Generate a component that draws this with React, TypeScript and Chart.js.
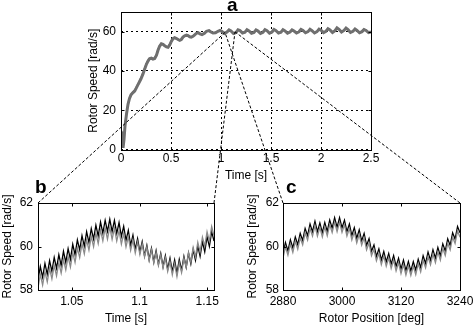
import React, { useEffect, useRef } from 'react';
import { Chart, registerables } from 'chart.js';

Chart.register(...registerables);

const FONT = '"Liberation Sans", Arial, Helvetica, sans-serif';

// ---------- Panel a: rotor speed over the whole run ----------
const aTime = [
  0, 0.008, 0.015, 0.022, 0.03, 0.04, 0.055, 0.07, 0.085, 0.1,
  0.12, 0.137, 0.155, 0.17, 0.185, 0.2, 0.22, 0.237, 0.255, 0.27,
  0.285, 0.303, 0.32, 0.337, 0.355, 0.37, 0.385, 0.403, 0.42, 0.437,
  0.455, 0.47, 0.487, 0.503, 0.52, 0.537, 0.555, 0.57, 0.587, 0.603,
  0.62, 0.637, 0.655, 0.67, 0.687, 0.703, 0.72, 0.737, 0.755, 0.77,
  0.79, 0.81, 0.835, 0.855, 0.88, 0.9, 0.92, 0.945, 0.97, 0.99,
  1.01, 1.035, 1.06, 1.08, 1.1, 1.125, 1.15, 1.17, 1.19, 1.215,
  1.24, 1.26, 1.28, 1.305, 1.33, 1.35, 1.37, 1.395, 1.42, 1.44,
  1.46, 1.485, 1.51, 1.53, 1.55, 1.575, 1.6, 1.62, 1.64, 1.665,
  1.69, 1.71, 1.73, 1.755, 1.78, 1.8, 1.82, 1.845, 1.87, 1.89,
  1.91, 1.935, 1.96, 1.98, 2.0, 2.025, 2.05, 2.07, 2.09, 2.115,
  2.14, 2.16, 2.18, 2.205, 2.23, 2.25, 2.27, 2.295, 2.32, 2.34,
  2.36, 2.385, 2.41, 2.43, 2.45, 2.475, 2.5,
];
const aGray = [
  9, 4, 1.5, 1.5, 5, 12, 18, 23, 26, 27.8,
  29, 29.8, 31.5, 33, 34.5, 36, 38.5, 41, 43.5, 45,
  46.2, 46.5, 46, 46.3, 48, 50.5, 52.5, 53.8, 53.5, 52.8,
  52.2, 52, 53.2, 55, 56.4, 56.9, 56.5, 56, 55.6, 56,
  57.2, 57.9, 58.2, 58, 57.4, 57.2, 57.6, 58.4, 59.2, 59.5,
  58.9, 58.5, 59.2, 60.2, 60.5, 59.8, 59.3, 59.4, 60.2, 60.6,
  60.1, 59.1, 59.8, 60.9, 60.3, 59.0, 59.5, 60.9, 60.5, 59.3,
  59.7, 61.0, 60.4, 59.2, 59.6, 60.9, 60.3, 59.1, 59.7, 61.0,
  60.5, 59.2, 59.8, 61.1, 60.5, 59.3, 59.7, 61.0, 60.4, 59.2,
  59.8, 60.9, 60.3, 59.3, 59.9, 61.1, 60.6, 59.4, 60.0, 61.2,
  60.5, 59.3, 60.0, 61.3, 60.7, 59.5, 60.2, 61.5, 60.9, 59.6,
  60.5, 61.9, 61.2, 59.8, 60.6, 61.8, 61.0, 59.6, 60.2, 61.3,
  60.6, 59.4, 60.0, 61.1, 60.6, 59.5, 59.9,
];
const aBlack = [
  9.5, 4.5, 2, 1.8, 5.5, 12.8, 18.8, 23.5, 26.4, 28.1,
  29.3, 30.2, 32, 33.4, 35, 36.5, 39, 41.6, 44, 45.4,
  46.4, 46.6, 46.2, 46.6, 48.5, 51, 52.9, 54, 53.6, 53,
  52.4, 52.3, 53.5, 55.3, 56.6, 57, 56.6, 56.2, 55.8, 56.2,
  57.4, 58, 58.3, 58.1, 57.6, 57.4, 57.8, 58.6, 59.3, 59.6,
  59.1, 58.7, 59.4, 60.3, 60.6, 59.9, 59.5, 59.6, 60.3, 60.7,
  60.2, 59.3, 59.9, 61.0, 60.4, 59.2, 59.6, 61.0, 60.6, 59.4,
  59.8, 61.1, 60.5, 59.3, 59.7, 61.0, 60.4, 59.2, 59.8, 61.1,
  60.6, 59.3, 59.9, 61.2, 60.6, 59.4, 59.8, 61.1, 60.5, 59.3,
  59.9, 61.0, 60.4, 59.4, 60.0, 61.2, 60.7, 59.5, 60.1, 61.3,
  60.6, 59.4, 60.1, 61.4, 60.8, 59.6, 60.3, 61.6, 61.0, 59.7,
  60.6, 62.0, 61.3, 59.9, 60.7, 61.9, 61.1, 59.7, 60.3, 61.4,
  60.7, 59.5, 60.1, 61.2, 60.7, 59.6, 60.0,
];
const aXTicks = [0, 0.5, 1, 1.5, 2, 2.5];
const aYTicks = [0, 20, 40, 60];
// the zoomed window marked in panel a: [time s, speed rad/s]
const zoomFrom = [1.04, 59.6];
const zoomTo = [1.14, 59.9];

// ---------- Panel b: rotor speed vs time (zoom) ----------
const bTimeStart = 1.025;
const bTimeEnd = 1.155;
const bBlack = [
  58.45, 59.08, 58.58, 59.22, 58.72, 59.35, 58.86, 59.50, 59.00, 59.62,
  59.13, 59.78, 59.27, 59.90, 59.41, 60.10, 59.62, 60.30, 59.84, 60.50,
  60.01, 60.68, 60.18, 60.82, 60.34, 60.98, 60.48, 61.12, 60.61, 61.20,
  60.69, 61.25, 60.68, 61.20, 60.60, 61.10, 60.46, 60.93, 60.28, 60.74,
  60.05, 60.52, 59.87, 60.36, 59.74, 60.22, 59.57, 60.05, 59.40, 59.92,
  59.29, 59.80, 59.18, 59.68, 59.07, 59.58, 58.95, 59.46, 58.85, 59.38,
  58.77, 59.40, 58.90, 59.54, 59.05, 59.70, 59.21, 59.86, 59.37, 60.03,
  59.55, 60.22, 59.76, 60.45, 60.00, 60.68, 60.25,
];
const bGray = [
  58.10, 58.72, 58.23, 58.85, 58.37, 58.99, 58.51, 59.13, 58.65, 59.26,
  58.78, 59.40, 58.92, 59.54, 59.06, 59.72, 59.27, 59.93, 59.49, 60.13,
  59.66, 60.30, 59.83, 60.46, 59.99, 60.61, 60.13, 60.75, 60.26, 60.85,
  60.34, 60.89, 60.33, 60.84, 60.25, 60.73, 60.11, 60.59, 59.98, 60.45,
  59.82, 60.31, 59.70, 60.21, 59.63, 60.12, 59.52, 59.98, 59.35, 59.85,
  59.24, 59.73, 59.13, 59.62, 59.02, 59.48, 58.85, 59.32, 58.70, 59.21,
  58.62, 59.25, 58.80, 59.47, 59.05, 59.72, 59.28, 59.95, 59.52, 60.19,
  59.75, 60.43, 60.01, 60.68, 60.25, 60.92, 60.50,
];
const bXTicks = [1.05, 1.1, 1.15];
const speedTicks = [58, 60, 62];

// ---------- Panel c: rotor speed vs rotor position ----------
const cPosStart = 2880;
const cPosEnd = 3240;
const cBlack = [
  59.68, 60.18, 59.80, 60.31, 59.93, 60.44, 60.08, 60.60, 60.28, 60.83,
  60.50, 61.03, 60.68, 61.16, 60.68, 61.08, 60.64, 61.10, 60.69, 61.21,
  60.84, 61.32, 60.88, 61.32, 60.85, 61.21, 60.68, 61.03, 60.50, 60.86,
  60.37, 60.76, 60.26, 60.60, 60.05, 60.36, 59.78, 60.07, 59.54, 59.89,
  59.37, 59.77, 59.29, 59.68, 59.19, 59.58, 59.08, 59.46, 58.96, 59.37,
  58.89, 59.31, 58.87, 59.30, 58.91, 59.41, 59.03, 59.57, 59.22, 59.74,
  59.36, 59.85, 59.46, 59.95, 59.57, 60.12, 59.79, 60.35, 60.05, 60.63,
  60.34, 60.92, 60.63,
];
const cGray = [
  59.48, 59.98, 59.60, 60.11, 59.73, 60.24, 59.88, 60.40, 60.08, 60.63,
  60.30, 60.83, 60.48, 60.96, 60.48, 60.88, 60.44, 60.90, 60.49, 61.01,
  60.64, 61.12, 60.68, 61.12, 60.65, 61.01, 60.48, 60.83, 60.30, 60.66,
  60.17, 60.56, 60.06, 60.40, 59.85, 60.16, 59.58, 59.87, 59.34, 59.69,
  59.17, 59.57, 59.09, 59.48, 58.99, 59.38, 58.88, 59.26, 58.76, 59.17,
  58.69, 59.11, 58.67, 59.10, 58.71, 59.21, 58.83, 59.37, 59.02, 59.54,
  59.16, 59.65, 59.26, 59.75, 59.37, 59.92, 59.59, 60.15, 59.85, 60.43,
  60.14, 60.72, 60.43,
];
const cXTicks = [2880, 3000, 3120, 3240];

const W = 474;
const H = 326;

function pairs(xs: number[], ys: number[]) {
  const n = Math.min(xs.length, ys.length);
  const out: { x: number; y: number }[] = [];
  for (let i = 0; i < n; i++) out.push({ x: xs[i], y: ys[i] });
  return out;
}
function evenSamples(start: number, end: number, n: number) {
  const out: number[] = [];
  for (let i = 0; i < n; i++) out.push(start + ((end - start) * i) / (n - 1));
  return out;
}

const framePlugin = {
  id: 'frame',
  afterDatasetsDraw(chart: any) {
    const { ctx, chartArea: ca, scales } = chart;
    const L = Math.round(ca.left) + 0.5;
    const R = Math.round(ca.right) + 0.5;
    const T = Math.round(ca.top) + 0.5;
    const B = Math.round(ca.bottom) + 0.5;
    ctx.save();
    ctx.setLineDash([]);
    ctx.strokeStyle = '#000';
    ctx.lineWidth = 1;
    ctx.beginPath();
    const len = 3;
    for (const t of scales.x.ticks) {
      const px = Math.round(scales.x.getPixelForValue(t.value)) + 0.5;
      if (px <= L + 1 || px >= R - 1) continue;
      ctx.moveTo(px, B); ctx.lineTo(px, B - len);
      ctx.moveTo(px, T); ctx.lineTo(px, T + len);
    }
    for (const t of scales.y.ticks) {
      const py = Math.round(scales.y.getPixelForValue(t.value)) + 0.5;
      if (py <= T + 1 || py >= B - 1) continue;
      ctx.moveTo(L, py); ctx.lineTo(L + len, py);
      ctx.moveTo(R, py); ctx.lineTo(R - len, py);
    }
    ctx.stroke();
    ctx.strokeRect(L, T, R - L, B - T);
    ctx.restore();
  },
};

interface PanelCfg {
  xMin: number; xMax: number; yMin: number; yMax: number;
  xTicks: number[]; yTicks: number[];
  xTitle: string; yTitle: string;
  padding: { left: number; right: number; top: number; bottom: number };
  yW: number; xH: number;
  yTitlePad: number; xTitlePad: number; yTickPad: number; xTickPad: number;
  grid: boolean;
}

function panelOptions(p: PanelCfg): any {
  const font = { family: FONT, size: 12, lineHeight: 1.2 };
  return {
    animation: false,
    responsive: false,
    devicePixelRatio: 1,
    layout: { padding: p.padding },
    plugins: { legend: { display: false }, tooltip: { enabled: false }, title: { display: false } },
    elements: { point: { radius: 0 }, line: { tension: 0 } },
    scales: {
      x: {
        type: 'linear', min: p.xMin, max: p.xMax,
        afterBuildTicks: (s: any) => { s.ticks = p.xTicks.map((v) => ({ value: v })); },
        afterFit: (s: any) => { s.height = p.xH; s.paddingLeft = 0; s.paddingRight = 0; },
        ticks: { color: '#000', font, padding: p.xTickPad, maxRotation: 0, autoSkip: false, callback: (v: any) => String(v) },
        grid: { display: p.grid, drawOnChartArea: p.grid, drawTicks: false, color: '#000', lineWidth: 1 },
        border: { display: false, dash: [2, 3] },
        title: { display: true, text: p.xTitle, color: '#000', font, padding: { top: 0, bottom: p.xTitlePad } },
      },
      y: {
        type: 'linear', min: p.yMin, max: p.yMax,
        afterBuildTicks: (s: any) => { s.ticks = p.yTicks.map((v) => ({ value: v })); },
        afterFit: (s: any) => { s.width = p.yW; s.paddingTop = 0; s.paddingBottom = 0; },
        ticks: { color: '#000', font, padding: p.yTickPad, autoSkip: false, callback: (v: any) => String(v) },
        grid: { display: p.grid, drawOnChartArea: p.grid, drawTicks: false, color: '#000', lineWidth: 1 },
        border: { display: false, dash: [2, 3] },
        title: { display: true, text: p.yTitle, color: '#000', font, padding: { top: p.yTitlePad, bottom: 0 } },
      },
    },
  };
}

export default function App() {
  const refA = useRef<HTMLCanvasElement>(null);
  const refB = useRef<HTMLCanvasElement>(null);
  const refC = useRef<HTMLCanvasElement>(null);

  useEffect(() => {
    const bTimes = evenSamples(bTimeStart, bTimeEnd, bBlack.length);
    const cPos = evenSamples(cPosStart, cPosEnd, cBlack.length);

    const chartB = new Chart(refB.current!, {
      type: 'line',
      data: {
        datasets: [
          { data: pairs(bTimes, bGray), borderColor: '#8a8a8a', borderWidth: 1.3, pointRadius: 0, fill: false },
          { data: pairs(bTimes, bBlack), borderColor: '#000000', borderWidth: 1.3, pointRadius: 0, fill: false },
        ],
      },
      options: panelOptions({
        xMin: bTimeStart, xMax: bTimeEnd, yMin: 58, yMax: 62,
        xTicks: bXTicks, yTicks: speedTicks,
        xTitle: 'Time [s]', yTitle: 'Rotor Speed [rad/s]',
        padding: { left: 0, right: W - 214, top: 203, bottom: 0 },
        yW: 38, xH: 36, yTitlePad: 0, xTitlePad: 0, yTickPad: 5, xTickPad: 4, grid: false,
      }),
      plugins: [framePlugin],
    });

    const chartC = new Chart(refC.current!, {
      type: 'line',
      data: {
        datasets: [
          { data: pairs(cPos, cGray), borderColor: '#8a8a8a', borderWidth: 1.3, pointRadius: 0, fill: false },
          { data: pairs(cPos, cBlack), borderColor: '#000000', borderWidth: 1.3, pointRadius: 0, fill: false },
        ],
      },
      options: panelOptions({
        xMin: cPosStart, xMax: cPosEnd, yMin: 58, yMax: 62,
        xTicks: cXTicks, yTicks: speedTicks,
        xTitle: 'Rotor Position [deg]', yTitle: 'Rotor Speed [rad/s]',
        padding: { left: 245, right: W - 460, top: 203, bottom: 0 },
        yW: 38, xH: 36, yTitlePad: 0, xTitlePad: 0, yTickPad: 4, xTickPad: 4, grid: false,
      }),
      plugins: [framePlugin],
    });

    const connectors = {
      id: 'connectors',
      afterDraw(chart: any) {
        const { ctx } = chart;
        const sx = chart.scales.x;
        const sy = chart.scales.y;
        const p1 = [sx.getPixelForValue(zoomFrom[0]), sy.getPixelForValue(zoomFrom[1])];
        const p2 = [sx.getPixelForValue(zoomTo[0]), sy.getPixelForValue(zoomTo[1])];
        const Bc = chartB.chartArea;
        const Cc = chartC.chartArea;
        const A = chart.chartArea;
        ctx.save();
        ctx.strokeStyle = '#000';
        ctx.lineWidth = 1;
        ctx.setLineDash([3, 2]);
        ctx.beginPath();
        ctx.moveTo(Bc.left, Bc.top); ctx.lineTo(p1[0], p1[1]);
        ctx.moveTo(Bc.right, Bc.top); ctx.lineTo(p2[0], p2[1]);
        ctx.moveTo(Cc.left, Cc.top); ctx.lineTo(p1[0], p1[1]);
        ctx.moveTo(Cc.right, Cc.top); ctx.lineTo(p2[0], p2[1]);
        ctx.stroke();
        ctx.setLineDash([]);
        ctx.fillStyle = '#000';
        ctx.font = `bold 19px ${FONT}`;
        ctx.textAlign = 'left';
        ctx.textBaseline = 'alphabetic';
        ctx.fillText('a', (A.left + A.right) / 2 - 19, A.top - 1);
        ctx.fillText('b', Bc.left - 3, Bc.top - 10);
        ctx.fillText('c', Cc.left + 3, Cc.top - 10);
        ctx.restore();
      },
    };

    const chartA = new Chart(refA.current!, {
      type: 'line',
      data: {
        datasets: [
          { data: pairs(aTime, aGray), borderColor: '#6f6f6f', borderWidth: 3, pointRadius: 0, fill: false },
          { data: pairs(aTime, aBlack), borderColor: '#222222', borderWidth: 1.2, pointRadius: 0, fill: false },
        ],
      },
      options: panelOptions({
        xMin: 0, xMax: 2.5, yMin: 0, yMax: 70,
        xTicks: aXTicks, yTicks: aYTicks,
        xTitle: 'Time [s]', yTitle: 'Rotor Speed [rad/s]',
        padding: { left: 81, right: W - 371, top: 12, bottom: H - 149.5 - 34 },
        yW: 40, xH: 34, yTitlePad: 5, xTitlePad: 1, yTickPad: 5, xTickPad: 2, grid: true,
      }),
      plugins: [framePlugin, connectors],
    });

    return () => {
      chartA.destroy();
      chartB.destroy();
      chartC.destroy();
    };
  }, []);

  const cs: React.CSSProperties = { position: 'absolute', left: 0, top: 0, width: W, height: H };
  return (
    <div style={{ position: 'fixed', left: 0, top: 0, width: W, height: H, background: '#fff' }}>
      <canvas ref={refB} width={W} height={H} style={cs} />
      <canvas ref={refC} width={W} height={H} style={cs} />
      <canvas ref={refA} width={W} height={H} style={cs} />
    </div>
  );
}
